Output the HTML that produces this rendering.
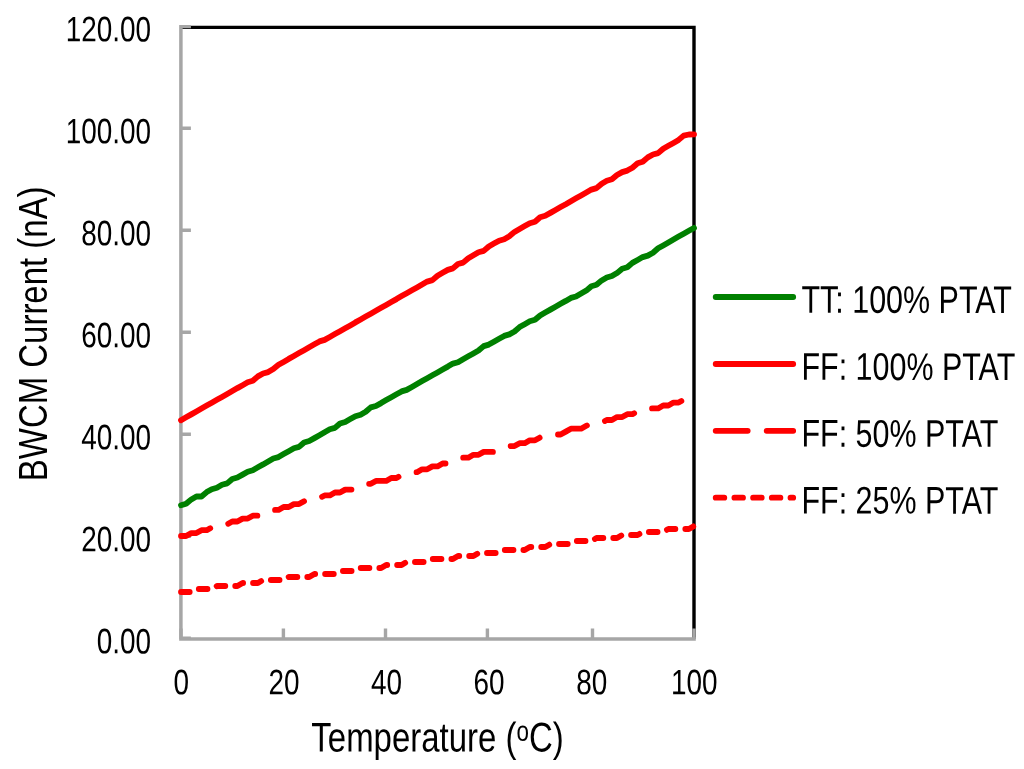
<!DOCTYPE html>
<html><head><meta charset="utf-8"><title>BWCM Current vs Temperature</title>
<style>
html,body{margin:0;padding:0;background:#fff;}
body{width:1024px;height:769px;overflow:hidden;}
svg{display:block;}
text{font-family:"Liberation Sans",sans-serif;fill:#000;}
</style></head><body>
<svg width="1024" height="769" viewBox="0 0 1024 769">
<rect width="1024" height="769" fill="#fff"/>

<path d="M180.9,27.4 H694.0 V639.0" fill="none" stroke="#000" stroke-width="3.4" stroke-linejoin="miter"/>
<path d="M180.9,25.0 V639.0 H695.8" fill="none" stroke="#a6a6a6" stroke-width="3.5" stroke-linejoin="miter"/>
<path d="M180.9,638.3 H190.9 M180.9,536.3 H190.9 M180.9,434.3 H190.9 M180.9,332.3 H190.9 M180.9,230.3 H190.9 M180.9,128.3 H190.9 M180.9,26.6 H190.9 M181.0,639.0 V628.6 M283.4,639.0 V628.6 M385.5,639.0 V628.6 M487.4,639.0 V628.6 M592.5,639.0 V628.6 M694.0,639.0 V628.6" fill="none" stroke="#a6a6a6" stroke-width="3.4"/>
<path d="M181.0,592.0 L186.1,592.0 L191.3,592.0 L196.4,589.0 L201.5,589.0 L206.7,589.0 L211.8,589.0 L216.9,586.0 L222.0,586.0 L227.2,586.0 L232.3,586.0 L237.4,586.0 L242.6,583.0 L247.7,583.0 L252.8,583.0 L257.9,583.0 L263.1,580.0 L268.2,580.0 L273.3,580.0 L278.5,580.0 L283.6,580.0 L288.7,577.0 L293.9,577.0 L299.0,577.0 L304.1,577.0 L309.2,577.0 L314.4,574.0 L319.5,574.0 L324.6,574.0 L329.8,574.0 L334.9,574.0 L340.0,571.0 L345.2,571.0 L350.3,571.0 L355.4,571.0 L360.6,568.0 L365.7,568.0 L370.8,568.0 L375.9,568.0 L381.1,568.0 L386.2,565.0 L391.3,565.0 L396.5,565.0 L401.6,565.0 L406.7,562.0 L411.9,562.0 L417.0,562.0 L422.1,562.0 L427.2,562.0 L432.4,559.0 L437.5,559.0 L442.6,559.0 L447.8,559.0 L452.9,559.0 L458.0,556.0 L463.1,556.0 L468.3,556.0 L473.4,556.0 L478.5,553.0 L483.7,553.0 L488.8,553.0 L493.9,553.0 L499.1,553.0 L504.2,550.0 L509.3,550.0 L514.5,550.0 L519.6,550.0 L524.7,550.0 L529.8,547.0 L535.0,547.0 L540.1,547.0 L545.2,547.0 L550.4,544.0 L555.5,544.0 L560.6,544.0 L565.8,544.0 L570.9,544.0 L576.0,541.0 L581.1,541.0 L586.3,541.0 L591.4,541.0 L596.5,538.0 L601.7,538.0 L606.8,538.0 L611.9,538.0 L617.0,538.0 L622.2,535.0 L627.3,535.0 L632.4,535.0 L637.6,535.0 L642.7,532.0 L647.8,532.0 L653.0,532.0 L658.1,532.0 L663.2,532.0 L668.4,529.0 L673.5,529.0 L678.6,529.0 L683.7,529.0 L688.9,529.0 L694.0,526.0" fill="none" stroke="#ff0000" stroke-width="5.8" stroke-linecap="round" stroke-linejoin="round" stroke-dasharray="8.69 9.93"/>
<path d="M181.0,536.0 L186.1,536.0 L191.3,533.1 L196.4,533.1 L201.5,530.2 L206.7,530.2 L211.8,527.3 L216.9,527.3 L222.0,524.4 L227.2,524.4 L232.3,521.5 L237.4,521.5 L242.6,518.6 L247.7,518.6 L252.8,515.7 L257.9,515.7 L263.1,512.8 L268.2,512.8 L273.3,509.9 L278.5,509.9 L283.6,507.0 L288.7,507.0 L293.9,504.1 L299.0,504.1 L304.1,501.2 L309.2,501.2 L314.4,498.3 L319.5,498.3 L324.6,495.4 L329.8,495.4 L334.9,492.5 L340.0,492.5 L345.2,489.6 L350.3,489.6 L355.4,489.6 L360.6,486.7 L365.7,483.8 L370.8,483.8 L375.9,480.9 L381.1,480.9 L386.2,480.9 L391.3,478.0 L396.5,478.0 L401.6,475.1 L406.7,475.1 L411.9,472.2 L417.0,472.2 L422.1,469.3 L427.2,469.3 L432.4,466.4 L437.5,466.4 L442.6,463.5 L447.8,463.5 L452.9,460.6 L458.0,460.6 L463.1,457.7 L468.3,457.7 L473.4,454.8 L478.5,454.8 L483.7,451.9 L488.8,451.9 L493.9,451.9 L499.1,449.0 L504.2,449.0 L509.3,446.1 L514.5,446.1 L519.6,443.2 L524.7,443.2 L529.8,440.3 L535.0,440.3 L540.1,437.4 L545.2,437.4 L550.4,434.5 L555.5,434.5 L560.6,434.5 L565.8,431.6 L570.9,428.7 L576.0,428.7 L581.1,428.7 L586.3,425.8 L591.4,422.9 L596.5,422.9 L601.7,422.9 L606.8,420.0 L611.9,420.0 L617.0,417.1 L622.2,417.1 L627.3,414.2 L632.4,414.2 L637.6,411.3 L642.7,411.3 L647.8,408.4 L653.0,408.4 L658.1,408.4 L663.2,405.5 L668.4,405.5 L673.5,402.6 L678.6,402.6 L683.7,399.7" fill="none" stroke="#ff0000" stroke-width="5.8" stroke-linecap="round" stroke-linejoin="round" stroke-dasharray="31.28 19.18"/>
<path d="M181.0,420.2 L186.1,417.3 L191.3,414.4 L196.4,411.5 L201.5,408.6 L206.7,405.6 L211.8,402.7 L216.9,399.8 L222.0,396.9 L227.2,394.0 L232.3,391.1 L237.4,388.1 L242.6,385.2 L247.7,382.3 L252.8,380.8 L257.9,376.4 L263.1,373.5 L268.2,372.1 L273.3,369.1 L278.5,364.8 L283.6,361.9 L288.7,358.9 L293.9,356.0 L299.0,353.1 L304.1,350.2 L309.2,347.2 L314.4,344.3 L319.5,341.4 L324.6,339.9 L329.8,337.0 L334.9,334.1 L340.0,331.2 L345.2,328.3 L350.3,325.4 L355.4,322.4 L360.6,319.5 L365.7,316.6 L370.8,313.7 L375.9,310.8 L381.1,307.8 L386.2,304.9 L391.3,302.0 L396.5,299.1 L401.6,296.1 L406.7,293.2 L411.9,290.3 L417.0,287.4 L422.1,284.5 L427.2,281.6 L432.4,280.1 L437.5,275.7 L442.6,272.8 L447.8,269.9 L452.9,268.4 L458.0,264.0 L463.1,262.6 L468.3,258.2 L473.4,255.3 L478.5,252.3 L483.7,250.9 L488.8,246.5 L493.9,243.6 L499.1,240.7 L504.2,239.2 L509.3,236.3 L514.5,231.9 L519.6,229.0 L524.7,226.1 L529.8,223.2 L535.0,221.7 L540.1,217.3 L545.2,215.8 L550.4,212.9 L555.5,210.0 L560.6,207.1 L565.8,204.2 L570.9,201.2 L576.0,198.3 L581.1,195.4 L586.3,192.5 L591.4,189.6 L596.5,188.1 L601.7,183.7 L606.8,180.8 L611.9,179.3 L617.0,175.0 L622.2,172.1 L627.3,170.6 L632.4,167.7 L637.6,163.3 L642.7,161.8 L647.8,157.4 L653.0,154.5 L658.1,153.1 L663.2,148.7 L668.4,145.8 L673.5,142.9 L678.6,139.9 L683.7,135.6 L688.9,134.5 L694.0,134.4" fill="none" stroke="#ff0000" stroke-width="5.8" stroke-linecap="round" stroke-linejoin="round"/>
<path d="M181.0,505.2 L186.1,503.8 L191.3,499.4 L196.4,496.5 L201.5,496.5 L206.7,492.1 L211.8,489.2 L216.9,487.7 L222.0,484.8 L227.2,483.4 L232.3,479.0 L237.4,477.5 L242.6,474.6 L247.7,471.7 L252.8,470.2 L257.9,467.3 L263.1,464.4 L268.2,461.4 L273.3,458.5 L278.5,457.1 L283.6,454.1 L288.7,451.2 L293.9,448.3 L299.0,446.9 L304.1,442.5 L309.2,441.0 L314.4,438.1 L319.5,435.2 L324.6,432.2 L329.8,429.3 L334.9,427.9 L340.0,423.5 L345.2,422.0 L350.3,419.1 L355.4,416.2 L360.6,414.7 L365.7,411.8 L370.8,407.4 L375.9,406.0 L381.1,403.1 L386.2,400.1 L391.3,397.2 L396.5,394.3 L401.6,391.4 L406.7,389.9 L411.9,387.0 L417.0,384.1 L422.1,381.1 L427.2,378.2 L432.4,375.3 L437.5,372.4 L442.6,369.5 L447.8,366.6 L452.9,363.6 L458.0,362.2 L463.1,359.2 L468.3,356.3 L473.4,353.4 L478.5,350.5 L483.7,346.1 L488.8,344.6 L493.9,341.7 L499.1,338.8 L504.2,335.9 L509.3,334.4 L514.5,331.5 L519.6,327.1 L524.7,324.2 L529.8,321.3 L535.0,319.8 L540.1,315.5 L545.2,312.5 L550.4,309.6 L555.5,306.7 L560.6,303.8 L565.8,300.9 L570.9,297.9 L576.0,296.5 L581.1,293.6 L586.3,290.6 L591.4,286.2 L596.5,284.8 L601.7,280.4 L606.8,277.5 L611.9,276.0 L617.0,273.1 L622.2,268.7 L627.3,267.3 L632.4,262.9 L637.6,260.0 L642.7,257.1 L647.8,255.6 L653.0,252.7 L658.1,248.3 L663.2,245.4 L668.4,242.4 L673.5,239.5 L678.6,236.6 L683.7,233.7 L688.9,230.8 L694.0,227.9" fill="none" stroke="#008000" stroke-width="5.8" stroke-linecap="round" stroke-linejoin="round"/>
<text transform="translate(150.9,653.4) rotate(0.05) scale(0.79,1)" font-size="35.3" text-anchor="end">0.00</text>
<text transform="translate(150.9,551.4) rotate(0.05) scale(0.79,1)" font-size="35.3" text-anchor="end">20.00</text>
<text transform="translate(150.9,449.4) rotate(0.05) scale(0.79,1)" font-size="35.3" text-anchor="end">40.00</text>
<text transform="translate(150.9,347.4) rotate(0.05) scale(0.79,1)" font-size="35.3" text-anchor="end">60.00</text>
<text transform="translate(150.9,245.4) rotate(0.05) scale(0.79,1)" font-size="35.3" text-anchor="end">80.00</text>
<text transform="translate(150.9,143.4) rotate(0.05) scale(0.79,1)" font-size="35.3" text-anchor="end">100.00</text>
<text transform="translate(150.9,41.4) rotate(0.05) scale(0.79,1)" font-size="35.3" text-anchor="end">120.00</text>
<text transform="translate(181.3,694.3) rotate(0.05) scale(0.79,1)" font-size="35.3" text-anchor="middle">0</text>
<text transform="translate(283.9,694.3) rotate(0.05) scale(0.79,1)" font-size="35.3" text-anchor="middle">20</text>
<text transform="translate(386.5,694.3) rotate(0.05) scale(0.79,1)" font-size="35.3" text-anchor="middle">40</text>
<text transform="translate(489.1,694.3) rotate(0.05) scale(0.79,1)" font-size="35.3" text-anchor="middle">60</text>
<text transform="translate(591.7,694.3) rotate(0.05) scale(0.79,1)" font-size="35.3" text-anchor="middle">80</text>
<text transform="translate(694.3,694.3) rotate(0.05) scale(0.79,1)" font-size="35.3" text-anchor="middle">100</text>
<text transform="translate(437.5,751.5) rotate(0.05) scale(0.794,1)" font-size="41.5" text-anchor="middle">Temperature (<tspan font-size="28.2" dy="-10.8">o</tspan><tspan dy="10.8">C)</tspan></text>
<text transform="translate(47.2,333.8) rotate(-90) scale(0.794,1)" font-size="41.5" text-anchor="middle">BWCM Current (nA)</text>
<path d="M715.7,297.0 H793.2" fill="none" stroke="#008000" stroke-width="5.8" stroke-linecap="round"/>
<text transform="translate(801.5,312.8) rotate(0.05) scale(0.791,1)" font-size="38.5" text-anchor="start">TT: 100% PTAT</text>
<path d="M715.7,364.0 H793.2" fill="none" stroke="#ff0000" stroke-width="5.8" stroke-linecap="round"/>
<text transform="translate(801.5,379.8) rotate(0.05) scale(0.791,1)" font-size="38.5" text-anchor="start">FF: 100% PTAT</text>
<path d="M715.7,430.8 H793.2" fill="none" stroke="#ff0000" stroke-width="5.8" stroke-linecap="round" stroke-dasharray="32 19"/>
<text transform="translate(801.5,446.6) rotate(0.05) scale(0.791,1)" font-size="38.5" text-anchor="start">FF: 50% PTAT</text>
<path d="M715.7,497.7 H793.2" fill="none" stroke="#ff0000" stroke-width="5.8" stroke-linecap="round" stroke-dasharray="8.6 10.1"/>
<text transform="translate(801.5,513.5) rotate(0.05) scale(0.791,1)" font-size="38.5" text-anchor="start">FF: 25% PTAT</text>
</svg></body></html>
